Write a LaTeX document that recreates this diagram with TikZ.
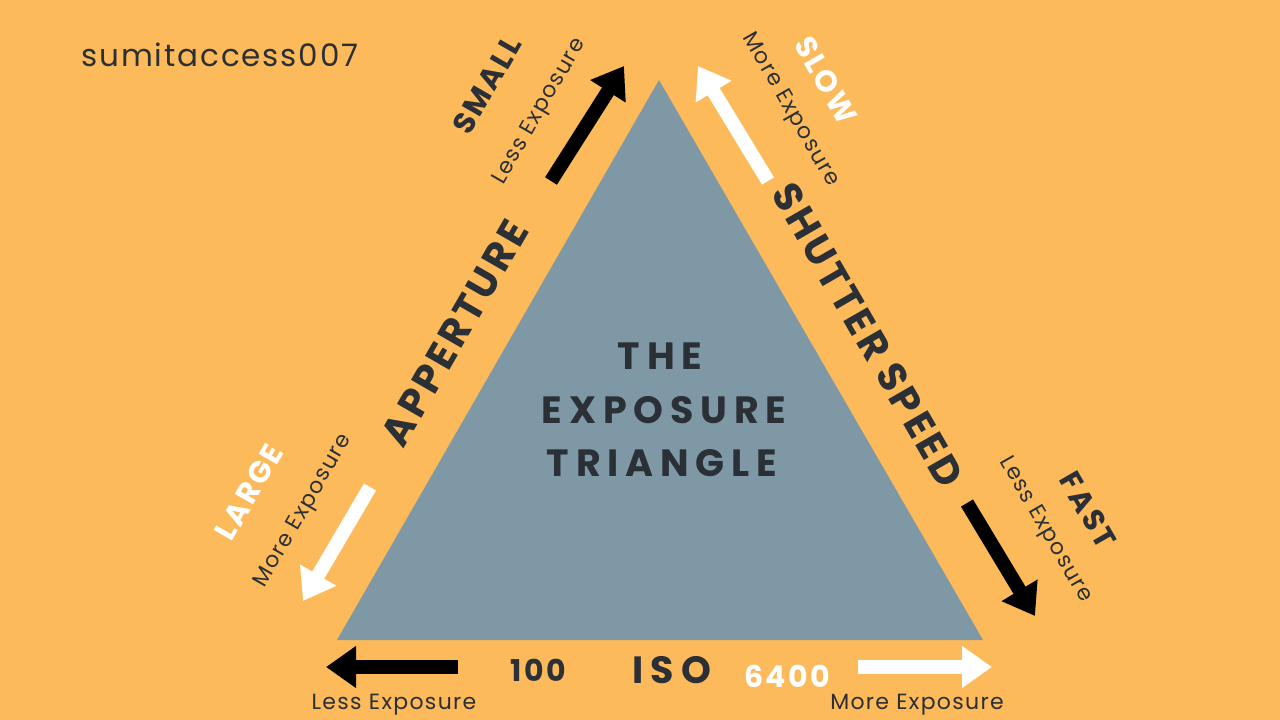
\documentclass[tikz,border=0pt]{standalone}
\usepackage{fontspec}
\setmainfont{Poppins}
\newfontfamily\spaced[LetterSpace=18]{Poppins}
\newfontfamily\lspaced[LetterSpace=6]{Poppins}
\newfontfamily\bspaced[LetterSpace=8]{Poppins}
\usetikzlibrary{arrows.meta}
\definecolor{bg}{HTML}{FDBA5A}
\definecolor{tri}{HTML}{7F98A5}
\definecolor{ink}{HTML}{2B2F36}
\tikzset{
 arr/.style={line width=14pt,-{Triangle[width=40pt,length=30pt]}},
 lbl/.style={text=ink,inner sep=0pt},
 big/.style={lbl,font=\fontsize{40}{40}\selectfont\bspaced\bfseries},
 mid/.style={lbl,font=\fontsize{30}{30}\selectfont\bspaced\bfseries},
 small/.style={lbl,font=\fontsize{22}{22}\selectfont\lspaced},
}
\begin{document}
\begin{tikzpicture}[x=1pt,y=-1pt]
\fill[bg] (0,0) rectangle (1280,720);
\useasboundingbox (0,0) rectangle (1280,720);
\fill[tri] (659,80) -- (337,640) -- (983,640) -- cycle;
\node[lbl,font=\fontsize{31}{31}\selectfont\lspaced] (brand) at (220,55) {sumitaccess007};
\node[lbl,font=\fontsize{38}{38}\selectfont\spaced\bfseries] (t1) at (660,356) {THE};
\node[lbl,font=\fontsize{38}{38}\selectfont\spaced\bfseries] (t2) at (664,410) {EXPOSURE};
\node[lbl,font=\fontsize{38}{38}\selectfont\spaced\bfseries] (t3) at (662,463) {TRIANGLE};
\node[big,rotate=60] (ap) at (455,333) {APPERTURE};
\node[big,rotate=-60] (sh) at (868,335) {SHUTTER SPEED};
\node[lbl,font=\fontsize{38}{38}\selectfont\spaced\bfseries] (iso) at (672,670) {ISO};
\node[mid] (n100) at (538,670) {100};
\node[mid,text=white] (n6400) at (787,676) {6400};
\node[small] (le1) at (394,705) {Less Exposure};
\node[small] (me1) at (917,705) {More Exposure};
\coordinate (a1s) at (458,667); \coordinate (a1e) at (326,667);
\coordinate (a2s) at (858,667); \coordinate (a2e) at (992,667);
\draw[arr,black] (a1s) -- (a1e);
\draw[arr,white] (a2s) -- (a2e);
% left side
\coordinate (a3s) at (551,181); \coordinate (a3e) at (624,66);
\draw[arr,black] (a3s) -- (a3e);
\node[small,rotate=60] (le2) at (540,112) {Less Exposure};
\node[mid,rotate=60] (sm) at (487,85) {SMALL};
\coordinate (a4s) at (370,487); \coordinate (a4e) at (303,601);
\draw[arr,white] (a4s) -- (a4e);
\node[small,rotate=60] (me2) at (304,511) {More Exposure};
\node[mid,rotate=60,text=white] (lg) at (249,492) {LARGE};
% right side
\coordinate (a5s) at (768,181); \coordinate (a5e) at (698,66);
\draw[arr,white] (a5s) -- (a5e);
\node[small,rotate=-60] (me3) at (790,110) {More Exposure};
\node[mid,rotate=-60,text=white] (sl) at (826,80) {SLOW};
\coordinate (a6s) at (967,503); \coordinate (a6e) at (1035,616);
\draw[arr,black] (a6s) -- (a6e);
\node[small,rotate=-60] (le3) at (1045,530) {Less Exposure};
\node[mid,rotate=-60] (ft) at (1088,510) {FAST};
\end{tikzpicture}
\end{document}
